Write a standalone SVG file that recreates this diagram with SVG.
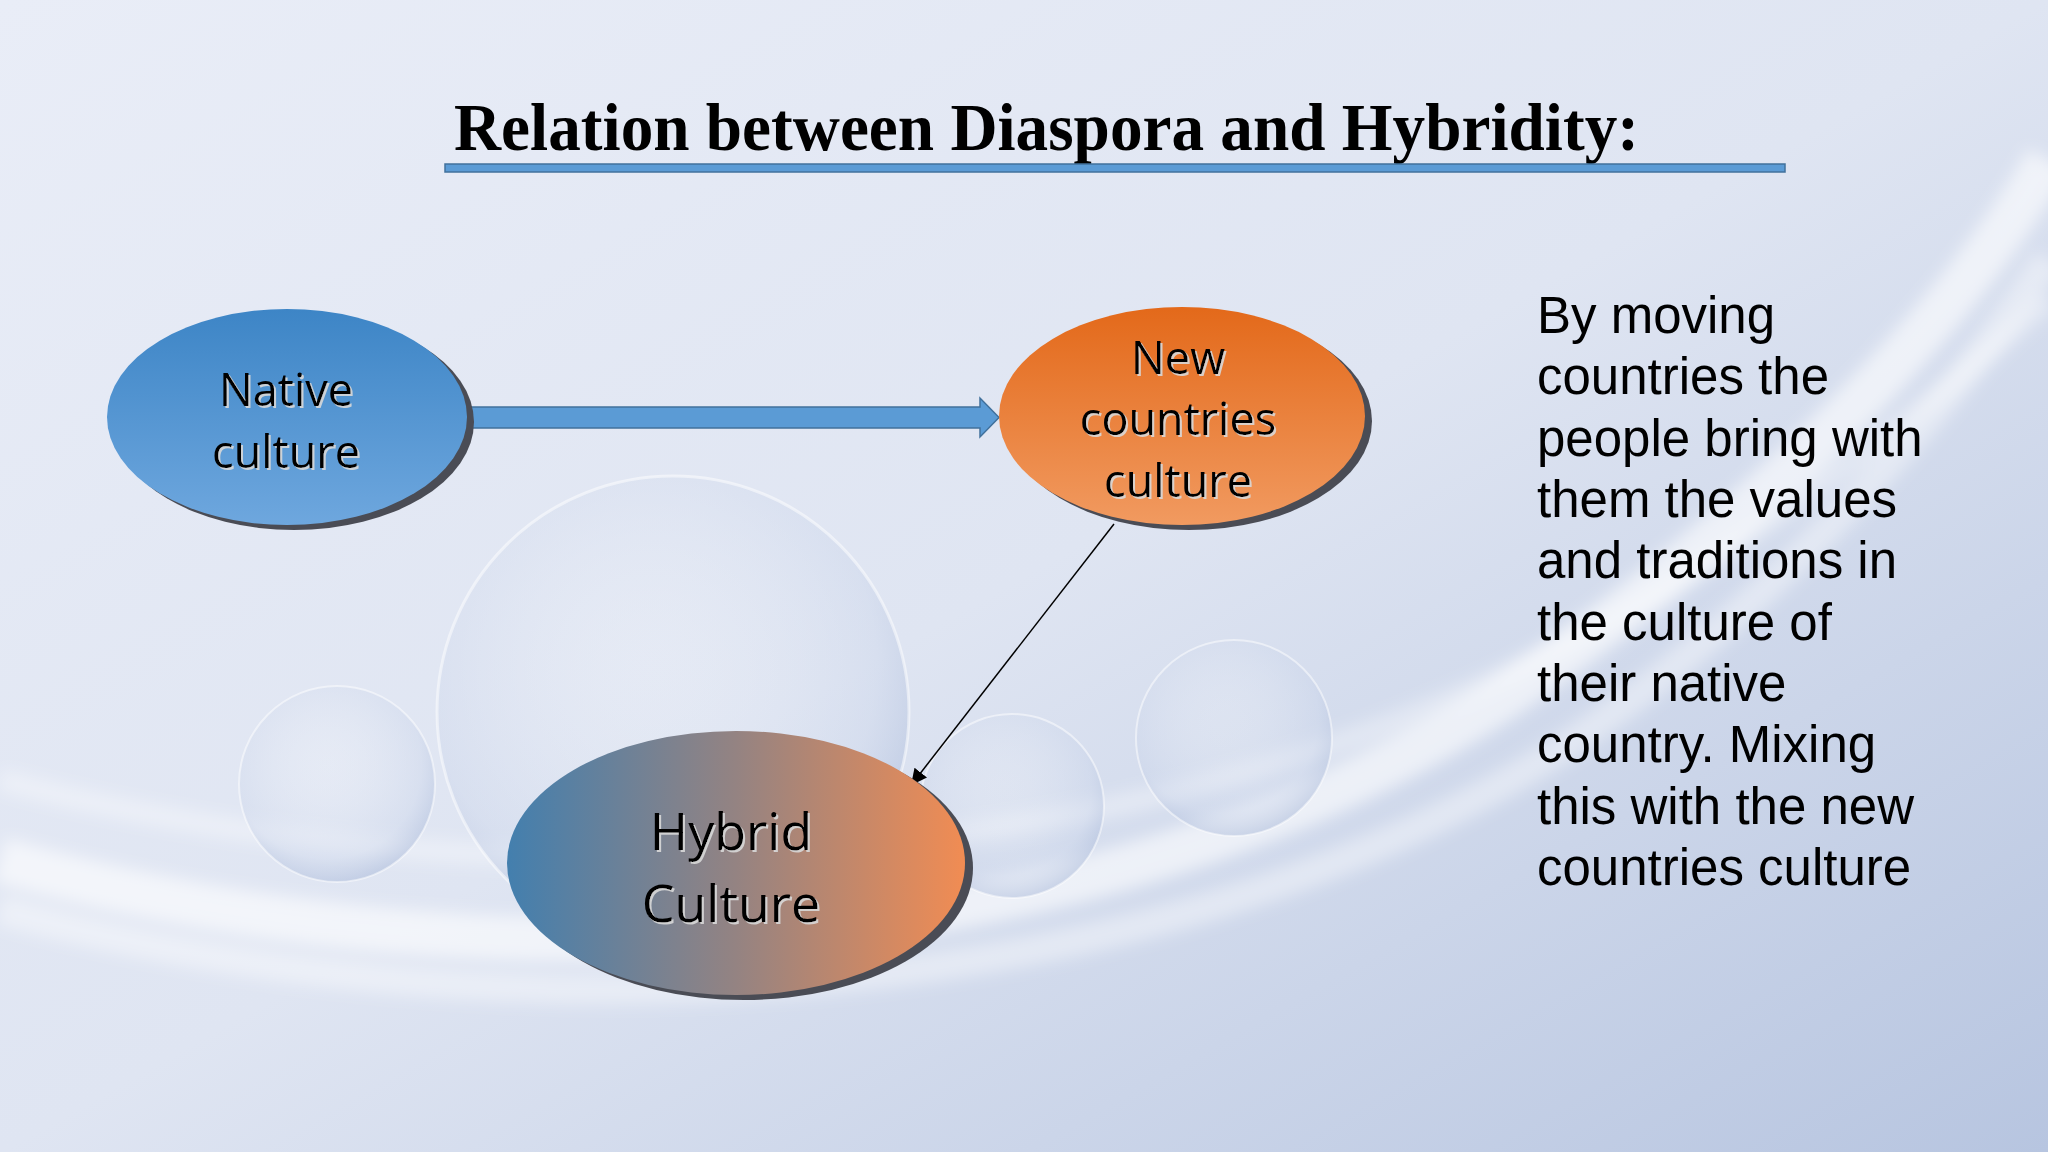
<svg xmlns="http://www.w3.org/2000/svg" width="2048" height="1152" viewBox="0 0 2048 1152">
<defs>
<linearGradient id="bg" x1="0" y1="0" x2="1" y2="1">
<stop offset="0" stop-color="#e9edf7"/>
<stop offset="0.5" stop-color="#dfe5f2"/>
<stop offset="1" stop-color="#b7c5e0"/>
</linearGradient>
<radialGradient id="bub" cx="0.45" cy="0.4" r="0.6">
<stop offset="0" stop-color="#ffffff" stop-opacity="0.15"/>
<stop offset="0.8" stop-color="#c9d4ea" stop-opacity="0.35"/>
<stop offset="1" stop-color="#a9b9d9" stop-opacity="0.5"/>
</radialGradient>
<linearGradient id="gBlue" x1="0" y1="0" x2="0" y2="1">
<stop offset="0" stop-color="#3d85c6"/>
<stop offset="1" stop-color="#6ea7de"/>
</linearGradient>
<linearGradient id="gOrange" x1="0" y1="0" x2="0" y2="1">
<stop offset="0" stop-color="#e3691a"/>
<stop offset="1" stop-color="#f19a60"/>
</linearGradient>
<linearGradient id="gHybrid" x1="0" y1="0" x2="1" y2="0">
<stop offset="0" stop-color="#437fae"/>
<stop offset="0.5" stop-color="#948382"/>
<stop offset="1" stop-color="#f18c53"/>
</linearGradient>
<filter id="ts" x="-10%" y="-10%" width="120%" height="130%">
<feDropShadow dx="2" dy="2" stdDeviation="0.5" flood-color="#d8d8d8" flood-opacity="0.9"/>
</filter>
<filter id="blur" x="-5%" y="-20%" width="110%" height="140%">
<feGaussianBlur stdDeviation="8"/>
</filter>
<marker id="arr" viewBox="0 0 10 10" refX="9" refY="5" markerWidth="16" markerHeight="16" markerUnits="userSpaceOnUse" orient="auto">
<path d="M0,0 L10,5 L0,10 z" fill="#000"/>
</marker>
<style>
.lbl{font-family:"Open Sans","Noto Sans","Liberation Sans",sans-serif;fill:#000;text-anchor:middle;filter:url(#ts)}
.body{font-family:"Liberation Sans",Arial,sans-serif;font-size:51px;fill:#000}
.shadow{fill:#4a4c55}
</style>
</defs>
<rect width="2048" height="1152" fill="url(#bg)"/>
<!-- background swooshes -->
<g filter="url(#blur)">
<path d="M0,860 C500,1000 1100,960 1500,700 C1750,530 1950,330 2048,160" fill="none" stroke="#ffffff" stroke-opacity="0.6" stroke-width="45"/>
<path d="M0,910 C520,1050 1150,1010 1560,750 C1800,590 1960,390 2048,260" fill="none" stroke="#ffffff" stroke-opacity="0.4" stroke-width="30"/>
<path d="M0,780 C450,900 1000,880 1400,720 C1700,600 1900,430 2048,300" fill="none" stroke="#ffffff" stroke-opacity="0.35" stroke-width="22"/>
</g>
<!-- bubbles -->
<circle cx="673" cy="712" r="236" fill="url(#bub)" stroke="#ffffff" stroke-opacity="0.5" stroke-width="3"/>
<circle cx="337" cy="784" r="98" fill="url(#bub)" stroke="#ffffff" stroke-opacity="0.5" stroke-width="2"/>
<circle cx="1012" cy="806" r="92" fill="url(#bub)" stroke="#ffffff" stroke-opacity="0.5" stroke-width="2"/>
<circle cx="1234" cy="738" r="98" fill="url(#bub)" stroke="#ffffff" stroke-opacity="0.5" stroke-width="2"/>
<!-- title -->
<g id="title">
<text x="454" y="150" font-family="'Liberation Serif','DejaVu Serif',serif" font-weight="bold" font-size="68" textLength="1185" lengthAdjust="spacingAndGlyphs" fill="#000">Relation between Diaspora and Hybridity:</text>
<rect x="445" y="164" width="1340" height="8" fill="#5b9bd5" stroke="#41719c" stroke-width="1.5"/>
</g>
<!-- connectors -->
<g id="connectors">
<path d="M466,407 L980,407 L980,398 L999,417.5 L980,437 L980,428 L466,428 z" fill="#5b9bd5" stroke="#41719c" stroke-width="1.5"/>
<line x1="1114" y1="524" x2="912" y2="784" stroke="#000" stroke-width="1.5" marker-end="url(#arr)"/>
</g>
<!-- nodes -->
<g id="native">
<ellipse class="shadow" cx="294" cy="422" rx="180" ry="108"/>
<ellipse cx="287" cy="417" rx="180" ry="108" fill="url(#gBlue)"/>
<text class="lbl" font-size="45"><tspan x="286" y="406">Native</tspan><tspan x="286" y="468">culture</tspan></text>
</g>
<g id="newcountries">
<ellipse class="shadow" cx="1189" cy="421" rx="183" ry="109"/>
<ellipse cx="1182" cy="416" rx="183" ry="109" fill="url(#gOrange)"/>
<text class="lbl" font-size="45"><tspan x="1178" y="374">New</tspan><tspan x="1178" y="435">countries</tspan><tspan x="1178" y="497">culture</tspan></text>
</g>
<g id="hybrid">
<ellipse class="shadow" cx="744" cy="868" rx="229" ry="132"/>
<ellipse cx="736" cy="863" rx="229" ry="132" fill="url(#gHybrid)"/>
<text class="lbl" font-size="52"><tspan x="731" y="850">Hybrid</tspan><tspan x="731" y="922">Culture</tspan></text>
</g>
<!-- body text -->
<g id="description">
<text class="body">
<tspan x="1537" y="333">By moving</tspan>
<tspan x="1537" y="394">countries the</tspan>
<tspan x="1537" y="456">people bring with</tspan>
<tspan x="1537" y="517">them the values</tspan>
<tspan x="1537" y="578">and traditions in</tspan>
<tspan x="1537" y="640">the culture of</tspan>
<tspan x="1537" y="701">their native</tspan>
<tspan x="1537" y="762">country. Mixing</tspan>
<tspan x="1537" y="824">this with the new</tspan>
<tspan x="1537" y="885">countries culture</tspan>
</text>
</g>
</svg>
